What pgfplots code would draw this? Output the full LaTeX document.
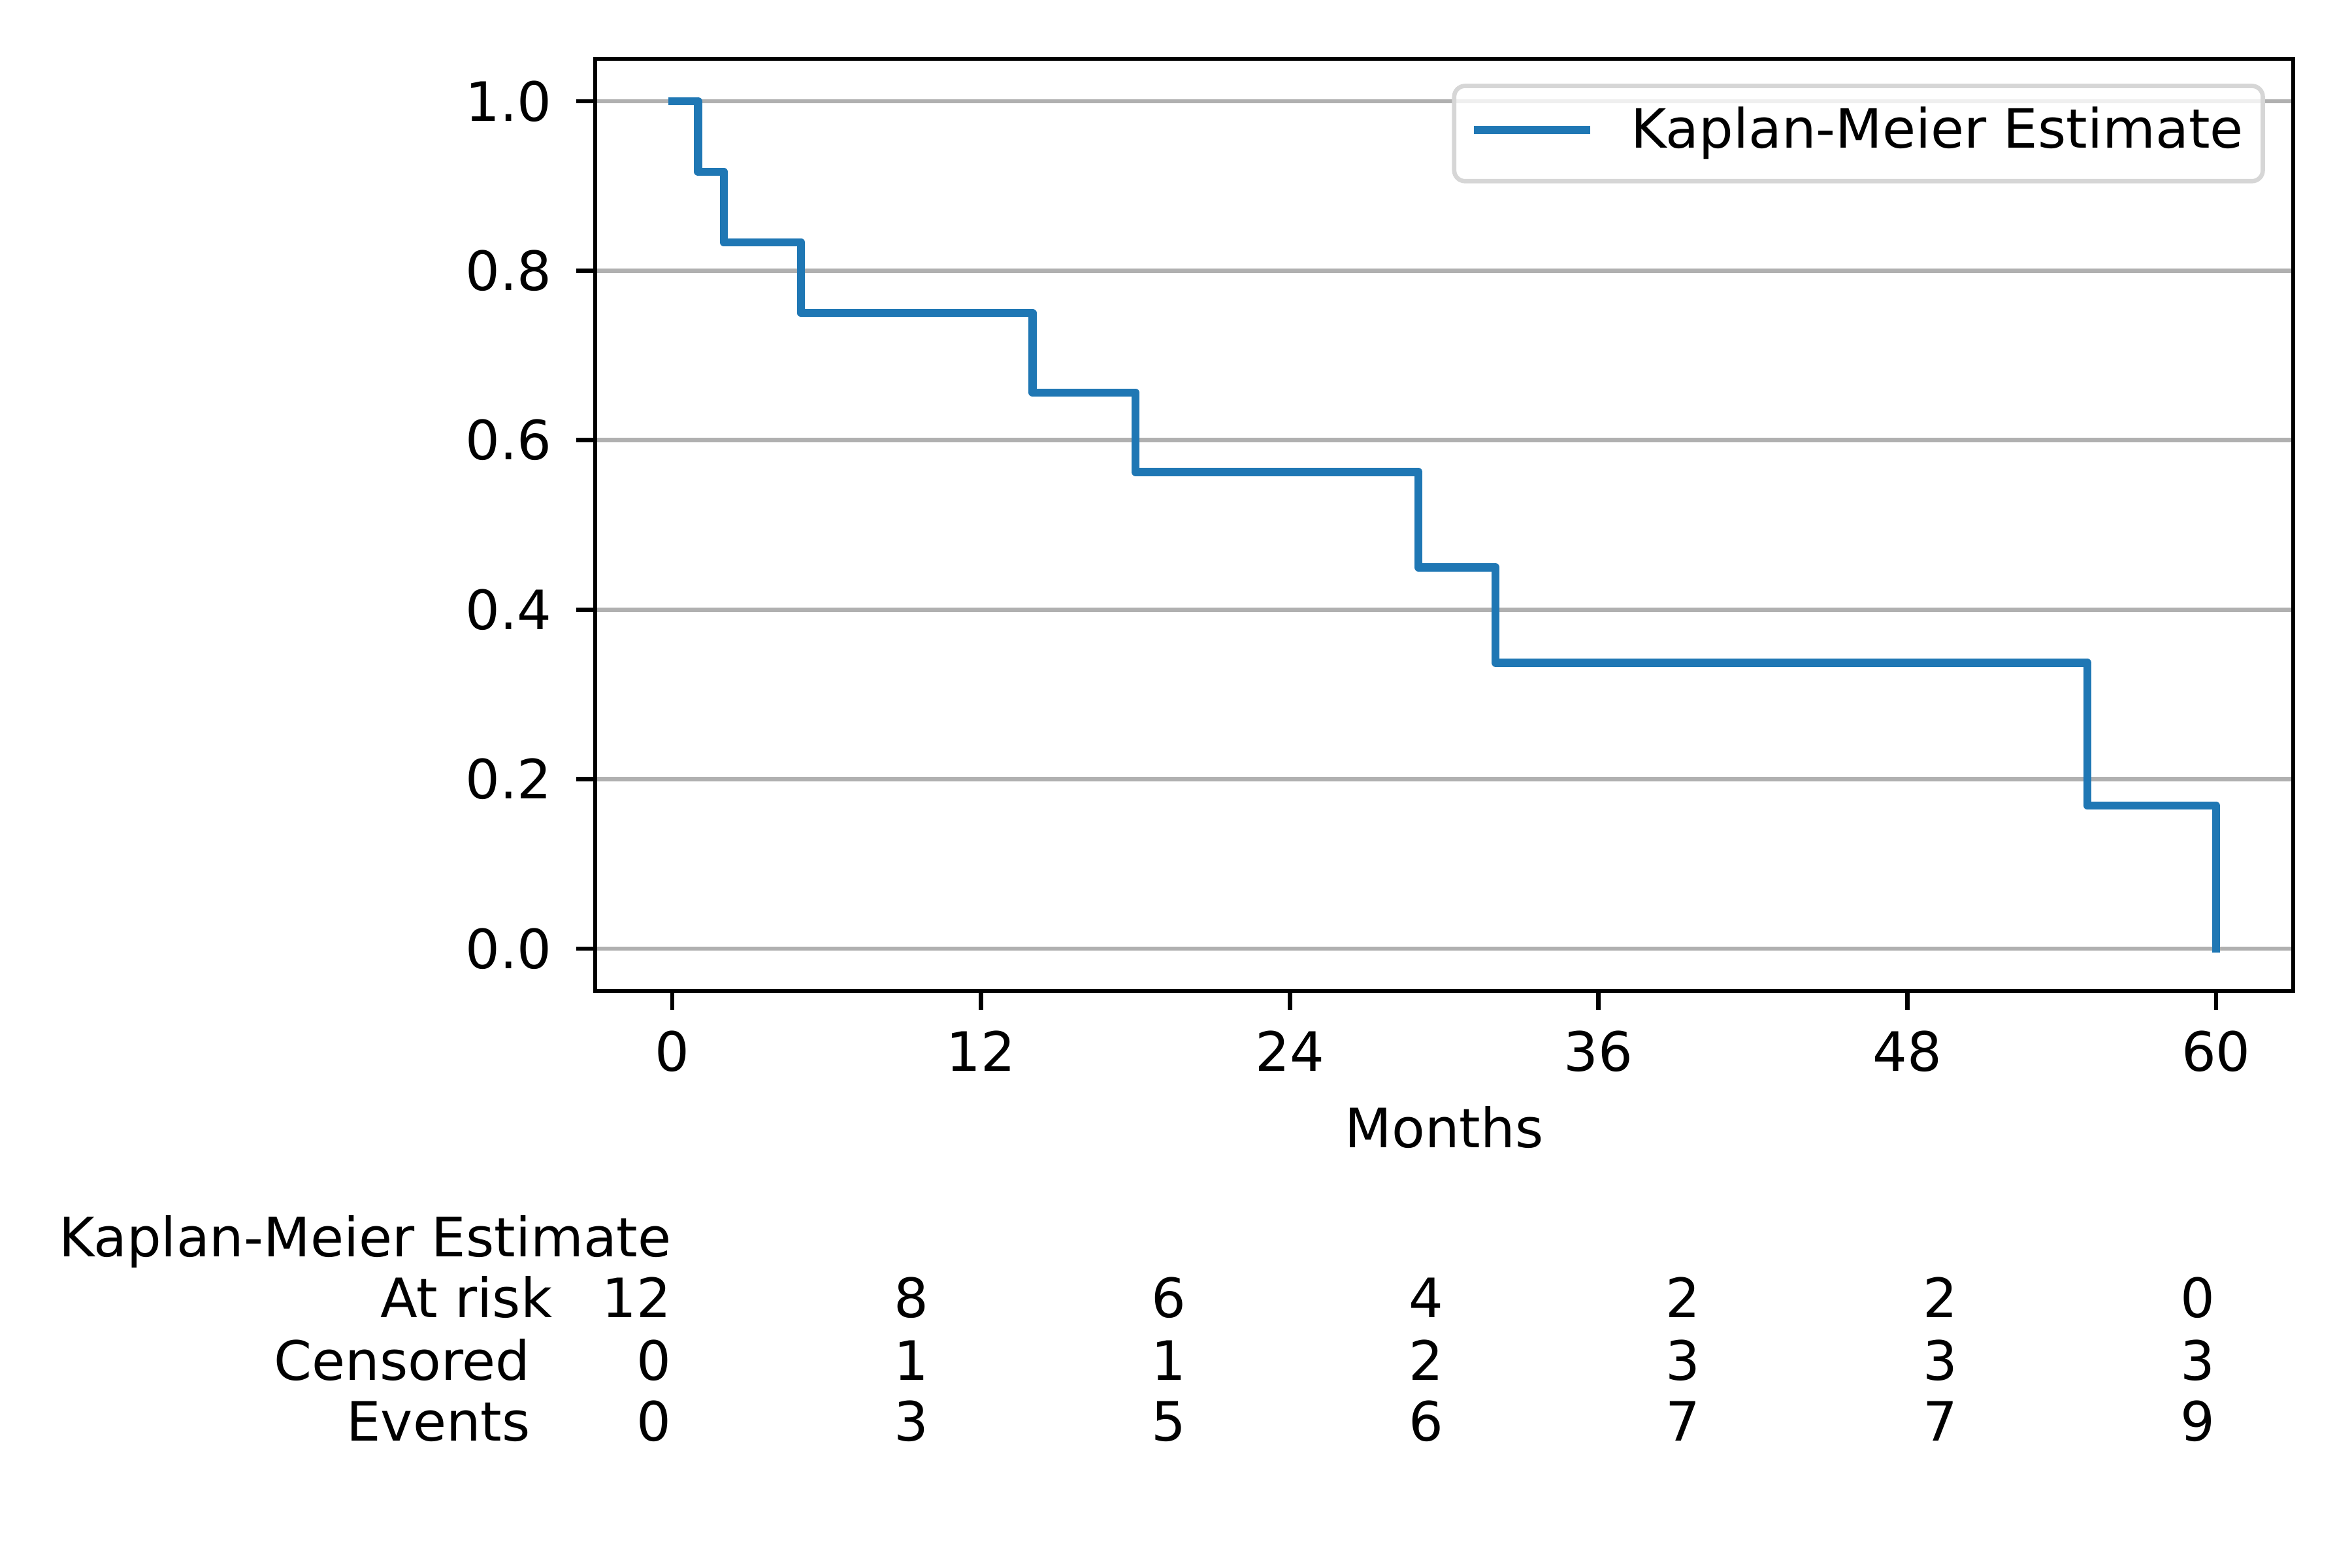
\documentclass[border=0pt]{standalone}
\usepackage{fontspec}
\setmainfont{DejaVu Sans}
\usepackage{pgfplots}
\pgfplotsset{compat=1.18}
\definecolor{kmblue}{HTML}{1F77B4}
\definecolor{gridgray}{HTML}{B0B0B0}
\definecolor{legedge}{HTML}{D6D6D6}
\newcommand{\riskcol}[4]{%
  \node[anchor=base east, inner sep=0pt] at (axis cs:#1,-0.05) [yshift=-0.8333in] {#2};
  \node[anchor=base east, inner sep=0pt] at (axis cs:#1,-0.05) [yshift=-0.9917in] {#3};
  \node[anchor=base east, inner sep=0pt] at (axis cs:#1,-0.05) [yshift=-1.1467in] {#4};
}
\begin{document}
\begin{tikzpicture}
\path[use as bounding box] (-1.5183in,-1.4717in) rectangle (4.4817in,2.5283in);
\begin{axis}[
  at={(0,0)}, anchor=south west,
  scale only axis, width=4.3317in, height=2.3783in,
  xmin=-3, xmax=63, ymin=-0.05, ymax=1.05,
  xtick={0,12,24,36,48,60},
  ytick={0,0.2,0.4,0.6,0.8,1.0},
  /pgf/number format/assume math mode=true,
  yticklabel style={/pgf/number format/fixed, /pgf/number format/fixed zerofill, /pgf/number format/precision=1},
  tick align=outside, xtick pos=bottom, ytick pos=left,
  major tick length=3.5pt,
  tick style={black, line width=0.8pt},
  axis line style={line width=0.8pt, black},
  ymajorgrids, major grid style={gridgray, line width=0.8pt},
  xticklabel style={inner sep=0pt, anchor=north, text height=7.29pt, text depth=0pt, yshift=-3.8pt},
  yticklabel style={inner sep=0pt, anchor=east, xshift=-4.3pt},
  xlabel={Months},
  xlabel style={at={(axis description cs:0.5,0)}, anchor=base, inner sep=0pt, yshift=-0.4in},
  clip=false,
  legend style={at={(1,1)}, anchor=north east, xshift=-5.2pt, yshift=-4.6pt,
    draw=legedge, line width=0.8pt, fill=white, fill opacity=0.8, text opacity=1, draw opacity=1,
    rounded corners=2pt, inner xsep=3.6pt, inner ysep=3.8pt,
    nodes={inner sep=0pt, text height=7.6pt, text depth=2.36pt, anchor=base},
    cells={anchor=base}},
  legend image code/.code={\draw[#1] (0.75pt,3.3pt) -- (20.75pt,3.3pt); \path[draw=none] (0pt,0pt) -- (29.0pt,0pt);},
]
\addplot[const plot, color=kmblue, line width=1.5pt, line cap=rect, line join=round]
  coordinates {(0,1) (1,0.916667) (2,0.833333) (5,0.75) (14,0.65625) (18,0.5625)
               (29,0.45) (32,0.3375) (55,0.16875) (60,0)};
\addlegendentry{Kaplan-Meier Estimate}
\node[anchor=base east, inner sep=0pt] at (axis cs:0,-0.05) [yshift=-0.6767in] {Kaplan-Meier Estimate};
\node[anchor=base east, inner sep=0pt] at (axis description cs:0,0) [xshift=-0.1067in, yshift=-0.8333in] {At risk};
\node[anchor=base east, inner sep=0pt] at (axis description cs:0,0) [xshift=-0.163in, yshift=-0.9917in] {Censored};
\node[anchor=base east, inner sep=0pt] at (axis description cs:0,0) [xshift=-0.163in, yshift=-1.1467in] {Events};
\riskcol{0}{12}{0}{0}
\riskcol{10}{8}{1}{3}
\riskcol{20}{6}{1}{5}
\riskcol{30}{4}{2}{6}
\riskcol{40}{2}{3}{7}
\riskcol{50}{2}{3}{7}
\riskcol{60}{0}{3}{9}
\end{axis}
\end{tikzpicture}
\end{document}
